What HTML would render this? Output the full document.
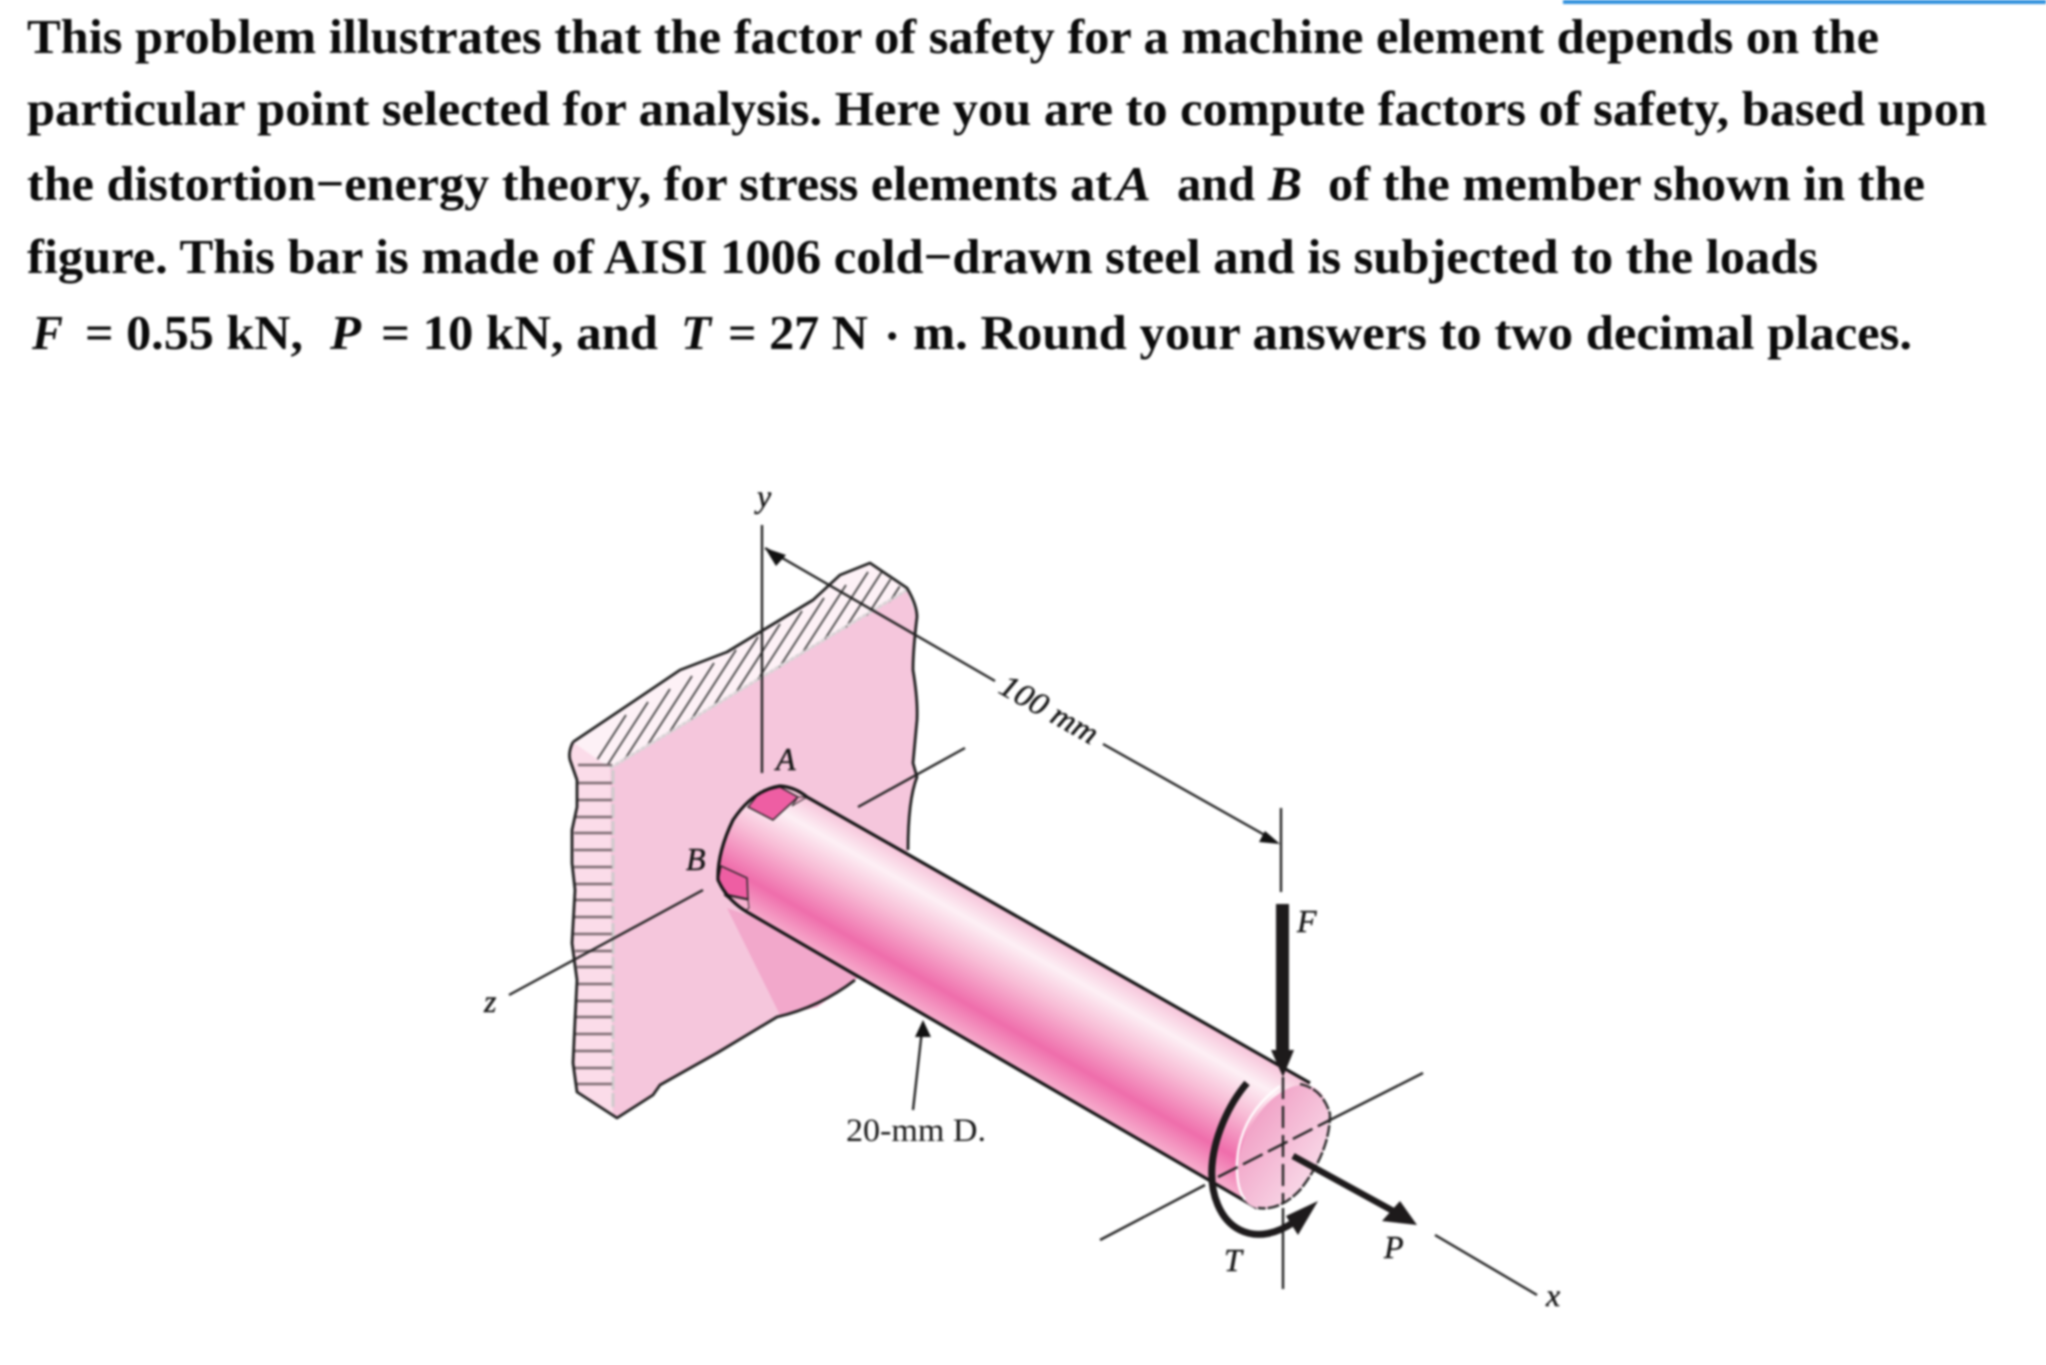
<!DOCTYPE html>
<html lang="en">
<head>
<meta charset="utf-8">
<title>Factor of safety problem</title>
<style>
html,body{margin:0;padding:0;background:#fff;width:2046px;height:1365px;overflow:hidden}
svg{display:block;position:absolute;left:0;top:0;filter:blur(1.1px)}
.t{font-family:"Liberation Serif",serif;font-weight:700;font-size:49px;fill:#0a0a0a}
.i{font-style:italic}
.l{font-family:"Liberation Serif",serif;font-style:italic;font-size:32px;fill:#151515;stroke:#151515;stroke-width:.4}
.ax{stroke:#222;stroke-width:2.4;fill:none}
</style>
</head>
<body>
<svg width="2046" height="1365" viewBox="0 0 2046 1365" xmlns="http://www.w3.org/2000/svg">
<defs>
<linearGradient id="cyl" gradientUnits="userSpaceOnUse" x1="1000" y1="907" x2="936" y2="1019">
<stop offset="0" stop-color="#f7c4da"/>
<stop offset="0.2" stop-color="#fdf0f5"/>
<stop offset="0.45" stop-color="#f8bdd6"/>
<stop offset="0.78" stop-color="#ef6dab"/>
<stop offset="1" stop-color="#f6a8ca"/>
</linearGradient>
<linearGradient id="face" x1="0.6" y1="0" x2="0.4" y2="1">
<stop offset="0" stop-color="#f1a3c7"/>
<stop offset="1" stop-color="#f8d6e6"/>
</linearGradient>
<clipPath id="topf"><path d="M573,742 L610,768 L907,592 L870,563 L840,575 L813,600 L760,632 L727,652 L680,670 L640,697 Z"/></clipPath>
</defs>

<rect x="1563" y="0" width="483" height="4" fill="#2f8fdc"/>

<!-- Problem text -->
<text class="t" x="27" y="53" textLength="1852" lengthAdjust="spacingAndGlyphs">This problem illustrates that the factor of safety for a machine element depends on the</text>
<text class="t" x="27" y="125" textLength="1960" lengthAdjust="spacingAndGlyphs">particular point selected for analysis. Here you are to compute factors of safety, based upon</text>
<text class="t" x="27" y="200" textLength="1085" lengthAdjust="spacingAndGlyphs">the distortion−energy theory, for stress elements at</text>
<text class="t i" x="1116" y="200" textLength="35" lengthAdjust="spacingAndGlyphs">A</text>
<text class="t" x="1177" y="200" textLength="78" lengthAdjust="spacingAndGlyphs">and</text>
<text class="t i" x="1268" y="200" textLength="34" lengthAdjust="spacingAndGlyphs">B</text>
<text class="t" x="1328" y="200" textLength="597" lengthAdjust="spacingAndGlyphs">of the member shown in the</text>
<text class="t" x="27" y="273" textLength="1791" lengthAdjust="spacingAndGlyphs">figure. This bar is made of AISI 1006 cold−drawn steel and is subjected to the loads</text>
<text class="t i" x="32" y="349" textLength="31" lengthAdjust="spacingAndGlyphs">F</text>
<text class="t" x="85" y="349" textLength="218" lengthAdjust="spacingAndGlyphs">= 0.55 kN,</text>
<text class="t i" x="330" y="349" textLength="31" lengthAdjust="spacingAndGlyphs">P</text>
<text class="t" x="381" y="349" textLength="277" lengthAdjust="spacingAndGlyphs">= 10 kN, and</text>
<text class="t i" x="681" y="349" textLength="30" lengthAdjust="spacingAndGlyphs">T</text>
<text class="t" x="728" y="349" textLength="140" lengthAdjust="spacingAndGlyphs">= 27 N</text>
<text class="t" x="884" y="352" font-weight="400">·</text>
<text class="t" x="913" y="349" textLength="999" lengthAdjust="spacingAndGlyphs">m. Round your answers to two decimal places.</text>

<!-- Wall -->
<path d="M610,768 L907,590 L917,617 L913,670 L917,720 L913,763 L917,777 L910,810 L908,850 L870,970 L855,980 L817,1007 L777,1017 L717,1053 L660,1085 L653,1095 L617,1118 L612,1115 Z" fill="#f5c6dc"/>
<path d="M727,908 L780,1015 L817,1007 L855,980 L880,960 Z" fill="#f2a8cb"/>
<path d="M573,742 L610,768 L613,1116 L577,1092 L573,1063 L577,980 L572,943 L575,890 L572,830 L577,807 L577,780 L570,760 Z" fill="#fbdce9"/>
<path d="M573,742 L610,768 L907,590 L870,563 L840,575 L813,600 L760,632 L727,652 L680,670 L640,697 Z" fill="#fdf1f6"/>
<g clip-path="url(#topf)" stroke="#3a3a3a" stroke-width="1.7" fill="none">
<path d="M581,785 l45,-70 M603,772 l45,-70 M625,759 l45,-70 M647,746 l45,-70 M669,733 l45,-70 M691,720 l45,-70 M713,707 l45,-70 M735,694 l45,-70 M757,681 l45,-70 M779,668 l45,-70 M801,655 l45,-70 M823,642 l45,-70 M845,629 l45,-70 M867,616 l45,-70 M889,603 l45,-70"/>
</g>
<path d="M610,768 L907,590" stroke="#d8d4d6" stroke-width="3" stroke-dasharray="5 1" fill="none"/>
<path d="M613,770 L613,1108" stroke="#cfcbcd" stroke-width="3" stroke-dasharray="14 3" fill="none"/>
<path stroke="#7a6a70" stroke-width="2.6" fill="none" d="M578,765H612M578,783H612M578,800H612M575,817H612M574,833H612M574,850H612M574,867H612M575,884H612M575,900H612M574,917H612M574,934H612M575,951H612M577,967H612M577,984H612M576,1001H612M575,1017H612M575,1034H612M575,1051H612M575,1068H612M576,1084H612"/>
<path fill="none" stroke="#1f1f1f" stroke-width="2.8" stroke-linejoin="round"
 d="M573,742 L640,697 L680,670 L727,652 L760,632 L813,600 L840,575 L870,563 L907,588 Q917,605 917,617 Q913,650 913,670 Q918,700 917,720 L913,763 L917,777 Q908,800 908,850"/>
<path fill="none" stroke="#1f1f1f" stroke-width="2.8" stroke-linejoin="round"
 d="M573,742 Q568,752 570,760 L577,780 L577,807 L572,830 L572,863 L575,890 L572,943 L577,980 L575,1020 L573,1063 L577,1092 L617,1118 L653,1095 L660,1085 L717,1053 L777,1017 Q820,1007 855,980"/>

<!-- Axes behind -->
<path class="ax" d="M762,525 V773"/>
<path class="ax" d="M858,807 L965,748"/>
<path class="ax" d="M509,995 L703,890"/>

<!-- 100 mm dimension -->
<path class="ax" d="M765,548 L995,681"/>
<path class="ax" d="M1103,744 L1270,838"/>
<path fill="#111" d="M765,548 L786,555 L776,566 Z"/>
<path fill="#111" d="M1280,844 L1265,831 L1259,842 Z"/>
<path class="ax" d="M1281,808 V892"/>
<text class="l" transform="translate(997,692) rotate(29.5)" textLength="108" lengthAdjust="spacingAndGlyphs">100 mm</text>

<!-- Cylinder -->
<path d="M807,797 L1310,1083 L1257,1208 L747,912 Q727,900 718,880 Q717,853 733,820 Q753,790 780,786 Q795,787 807,797 Z" fill="url(#cyl)"/>
<path d="M748,807 L760,792 L780,787 L798,797 L773,820 Z" fill="#ee5ea3" stroke="#222" stroke-width="1.4"/>
<path d="M798,797 L807,797 L792,806 Z" fill="#f6b2d0" stroke="#222" stroke-width="1"/>
<path d="M721,866 L747,878 L748,899 L725,894 L718,880 Z" fill="#ee5ea3" stroke="#222" stroke-width="1.4"/>
<path d="M724,895 L748,900 L749,908 L745,911 Z" fill="#f6b2d0" stroke="#222" stroke-width="1"/>
<path d="M1310,1083 L807,797 Q795,787 780,786 Q753,790 733,820 Q717,853 718,880 Q727,900 747,912 L1257,1208" fill="none" stroke="#141414" stroke-width="3.2"/>

<!-- End face -->
<ellipse cx="1283" cy="1147" rx="67" ry="38.4" transform="rotate(-62.5 1283 1147)" fill="url(#face)"/>
<path d="M1280,1086 Q1240,1115 1237,1162 Q1236,1188 1245,1200" fill="none" stroke="#fff" stroke-width="2.2"/>
<path d="M1300,1084 Q1323,1089 1330,1114 Q1330,1152 1300,1190 Q1280,1211 1258,1208" fill="none" stroke="#2a2a2a" stroke-width="2.4" stroke-dasharray="12 2"/>

<!-- Face axes -->
<path class="ax" d="M1100,1240 L1205,1185"/>
<path class="ax" d="M1218,1177 L1330,1120" stroke-dasharray="22 6"/>
<path class="ax" d="M1330,1120 L1423,1073"/>
<path class="ax" d="M1283,1077 V1204" stroke-dasharray="22 7"/>
<path class="ax" d="M1283,1208 V1289"/>

<!-- F arrow -->
<rect x="1276" y="904" width="13" height="150" fill="#1d1a1b"/>
<path d="M1271,1050 L1294,1050 L1283,1077 Z" fill="#1d1a1b"/>

<!-- P arrow -->
<path d="M1293,1156 L1395,1212" stroke="#1d1a1b" stroke-width="6.5" fill="none"/>
<path d="M1417,1225 L1400,1201 L1382,1221 Z" fill="#1d1a1b"/>
<path class="ax" d="M1435,1235 L1537,1295"/>

<!-- Torque -->
<path d="M1247,1083 C1228,1105 1214,1138 1212,1166 C1210,1194 1220,1220 1240,1230 C1258,1239 1278,1233 1294,1222" fill="none" stroke="#1d1a1b" stroke-width="7"/>
<path d="M1318,1201 L1286,1216 L1298,1235 Z" fill="#1d1a1b"/>

<!-- 20 mm leader -->
<path class="ax" d="M913,1110 L922,1030"/>
<path d="M923,1020 L915,1037 L931,1037 Z" fill="#111"/>

<!-- Labels -->
<text class="l" x="757" y="507">y</text>
<text class="l" x="776" y="770">A</text>
<text class="l" x="686" y="870">B</text>
<text class="l" x="484" y="1012">z</text>
<text class="l" x="1297" y="932">F</text>
<text class="l" x="1224" y="1271">T</text>
<text class="l" x="1384" y="1258">P</text>
<text class="l" x="1546" y="1306">x</text>
<text x="846" y="1141" font-family="'Liberation Serif',serif" font-size="33" fill="#151515" textLength="140" lengthAdjust="spacingAndGlyphs">20-mm D.</text>
</svg>
</body>
</html>
